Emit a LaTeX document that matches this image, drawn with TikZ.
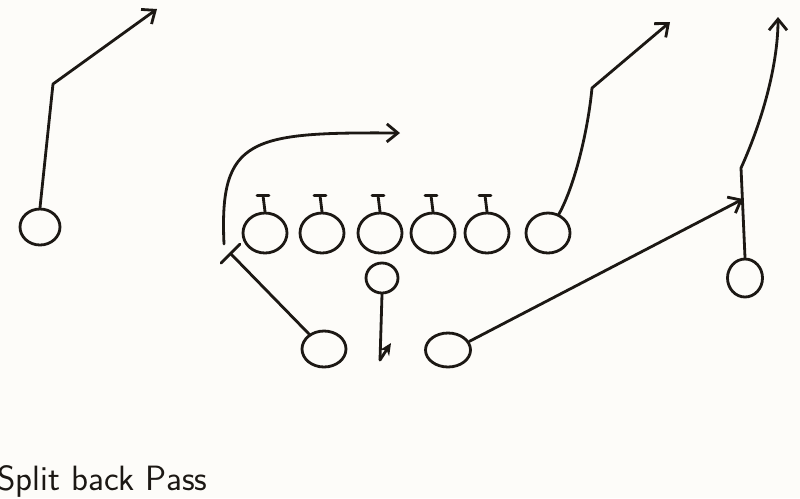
\documentclass[tikz,border=0pt]{standalone}
\usetikzlibrary{positioning,arrows.meta,shapes.geometric,calc}
\definecolor{paper}{RGB}{253,252,249}
\definecolor{marker}{RGB}{28,24,20}

\tikzset{
  player/.style={draw=marker, ellipse, line width=1.6pt, inner sep=0pt,
                 minimum width=0.88cm, minimum height=0.8cm},
  route/.style={draw=marker, line width=1.6pt, line cap=round, line join=round},
  tip/.style={-{Straight Barb[length=0.22cm,width=0.36cm]}},
  droptip/.style={-{Stealth[length=0.24cm,width=0.22cm]}}
}

\begin{document}
\begin{tikzpicture}[x=0.02cm, y=-0.02cm]

%paper
\fill[paper] (0,0) rectangle (800,498);
\useasboundingbox (0,0) rectangle (800,498);

%players
\node[player, minimum width=0.8cm, minimum height=0.72cm] (wrL) at (40,227) {};
\foreach \k/\x in {1/265,2/322,3/380,4/433,5/487,6/548} {
    \node[player] (ol\k) at (\x,233) {};
}
\node[player, minimum width=0.64cm, minimum height=0.6cm] (qb) at (382,278) {};
\node[player, minimum width=0.88cm, minimum height=0.72cm] (rbL) at (324,349) {};
\node[player, minimum width=0.9cm, minimum height=0.68cm] (rbR) at (448,350) {};
\node[player, minimum width=0.7cm, minimum height=0.76cm] (wrR) at (745,278) {};

%blocks on the line
\foreach \k in {1,2,3,4,5} {
    \draw[route] (ol\k.north) -- ++(-2,-16) coordinate (t\k);
    \draw[route] ($(t\k)+(-6,0)$) -- ($(t\k)+(6,0)$);
}

%break points and ends of the routes
\coordinate (wrLbreak) at (53,84);
\coordinate (wrLend) at (157,9);
\coordinate (teBreak) at (592,88);
\coordinate (teEnd) at (670,22);
\coordinate (wrRbreak) at (741,168);
\coordinate (wrRend) at (778,17);
\coordinate (rbRend) at (743,199);
\coordinate (rbLblock) at (231,254);
\coordinate (motionStart) at (224,244);
\coordinate (motionEnd) at (400,133);
\coordinate (qbDrop) at (380,360);
\coordinate (qbEnd) at (391,343);

%routes
\draw[route,tip] (wrL.north) -- (wrLbreak) -- (wrLend);
\draw[route,tip] (ol6.60) .. controls (575,185) and (588,130) .. (teBreak) -- (teEnd);
\draw[route,tip] (wrR.north) -- (wrRbreak) .. controls (765,115) and (778,60) .. (wrRend);
\draw[route,tip] (rbR.22) -- (rbRend);
\draw[route,tip] (motionStart) .. controls (219,138) and (250,132) .. (motionEnd);

%block by the left back
\draw[route] (rbL.135) -- (rbLblock);
\draw[route] ($(rbLblock)+(-10,9)$) -- ($(rbLblock)+(9,-10)$);

%quarterback drop
\draw[route] (qb.south) -- (qbDrop);
\draw[route,droptip] (qbDrop) -- (qbEnd);

%title
\node[anchor=base west, inner sep=0pt, text=marker, font=\fontsize{20}{22}\selectfont\sffamily] (title) at (-3,490) {Split back Pass};

\end{tikzpicture}
\end{document}
